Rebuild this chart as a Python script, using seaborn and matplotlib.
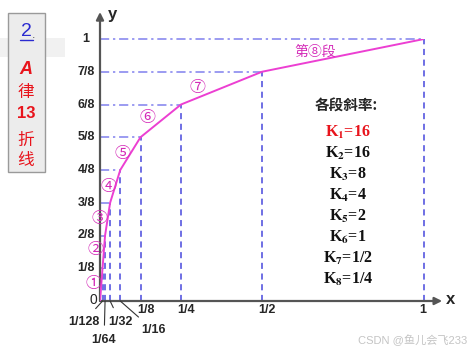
import matplotlib
matplotlib.use('Agg')
import numpy as np
import pandas as pd
import seaborn as sns
import matplotlib.pyplot as plt
from matplotlib.patches import Rectangle

# A律13折线 的折点 (归一化输入 x, 输出 y)
x_pts = [0, 1 / 128, 1 / 64, 1 / 32, 1 / 16, 1 / 8, 1 / 4, 1 / 2, 1]
y_pts = [0, 1 / 8, 2 / 8, 3 / 8, 4 / 8, 5 / 8, 6 / 8, 7 / 8, 1]
y_tick_labels = ['1/8', '2/8', '3/8', '4/8', '5/8', '6/8', '7/8', '1']
x_small_labels = ['1/128', '1/64', '1/32', '1/16']
x_big_labels = ['1/8', '1/4', '1/2', '1']
seg_labels = ['①', '②', '③', '④', '⑤', '⑥', '⑦', '第⑧段']
slopes = ['16', '16', '8', '4', '2', '1', '1/2', '1/4']

W, H = 474, 351
sns.set_style('white')
plt.rcParams['font.family'] = ['Liberation Sans', 'Noto Sans CJK SC', 'DejaVu Sans']
plt.rcParams['mathtext.fontset'] = 'stix'

magenta = '#ec3fd2'
mag_txt = '#d42ab8'
blue = '#4848dc'
lblue = '#8080ee'


def fx(px):
    return px / W


def fy(py):
    return 1 - py / H


fig = plt.figure(figsize=(4.74, 3.51), dpi=100)
# data (0,0) -> pixel (100,301), (1,1) -> pixel (424,39)
ax = fig.add_axes([fx(100), fy(301), 324 / W, 262 / H])

df = pd.DataFrame({'x': x_pts, 'y': y_pts})
sns.lineplot(data=df, x='x', y='y', ax=ax, color=magenta, lw=1.4, sort=False, zorder=5)
ax.set_xlim(0, 1)
ax.set_ylim(0, 1)
ax.axis('off')

# 辅助虚线
for xv, yv in zip(x_pts[1:], y_pts[1:]):
    ax.plot([0, xv], [yv, yv], color=lblue, lw=1.1, ls=(0, (6, 2.5, 1.5, 2.5)), clip_on=False, zorder=2)
    ax.plot([xv, xv], [0, yv], color=blue, lw=1.1, ls=(0, (4, 3)), clip_on=False, zorder=2)

# 坐标轴
ax.annotate('', xy=(0, 1.103), xytext=(0, 0), annotation_clip=False,
            arrowprops=dict(arrowstyle='-|>', color='#555555', lw=1.6, mutation_scale=11, shrinkA=0, shrinkB=0))
ax.annotate('', xy=(1.056, 0), xytext=(0, 0), annotation_clip=False,
            arrowprops=dict(arrowstyle='-|>', color='#555555', lw=1.6, mutation_scale=11, shrinkA=0, shrinkB=0))
fig.text(fx(112), fy(15), 'y', fontsize=12, fontweight='bold', ha='center', va='center')
fig.text(fx(451), fy(300), 'x', fontsize=12, fontweight='bold', ha='center', va='center')

# y 刻度
for yv, lab in zip(y_pts[1:], y_tick_labels):
    ax.annotate(lab, xy=(0, yv), xytext=(-14, 0), textcoords='offset pixels', ha='center', va='center',
                fontsize=9, fontweight='bold', annotation_clip=False)
ax.annotate('0', xy=(0, 0), xytext=(-7, 1), textcoords='offset pixels', ha='center', va='center',
            fontsize=10, annotation_clip=False)

# x 刻度 (大)
for xv, lab in zip(x_pts[5:], x_big_labels):
    dx = 5 if lab != '1' else -1
    ax.annotate(lab, xy=(xv, 0), xytext=(dx, -9), textcoords='offset pixels', ha='center', va='center',
                fontsize=9, fontweight='bold', annotation_clip=False)

# x 刻度 (小, 带引线)
small_off = [(-19, -21), (-1, -39), (10, -21), (33, -29)]
for xv, lab, off in zip(x_pts[1:5], x_small_labels, small_off):
    ax.annotate(lab, xy=(xv, 0), xytext=off, textcoords='offset pixels', ha='center', va='center',
                fontsize=9, fontweight='bold', annotation_clip=False,
                arrowprops=dict(arrowstyle='-', color='#333333', lw=0.8, shrinkA=4, shrinkB=0))

# 段号
seg_off = [(-8, 1), (-8, 2), (-8, 1), (-7, 0), (-8, 0), (-13, 3), (-24, 1), (-28, 4)]
for i, (lab, off) in enumerate(zip(seg_labels, seg_off)):
    mx = (x_pts[i] + x_pts[i + 1]) / 2
    my = (y_pts[i] + y_pts[i + 1]) / 2
    ax.annotate(lab, xy=(mx, my), xytext=off, textcoords='offset pixels', ha='center', va='center',
                fontsize=11.5 if i < 7 else 10, color=mag_txt, annotation_clip=False, zorder=6,
                family=['Noto Sans CJK SC', 'DejaVu Sans'])

# 各段斜率
fig.text(fx(346), fy(106), '各段斜率:', fontsize=10.5, fontweight='bold', ha='center', va='center',
         family=['Noto Sans CJK SC'])
for k, s in enumerate(slopes):
    fig.text(fx(348), fy(132 + k * 21), 'K$_\\mathbf{%d}$=%s' % (k + 1, s), fontsize=11.5, fontweight='bold',
             ha='center', va='center', family=['Liberation Serif'],
             color='#e8141c' if k == 0 else '#111111')

# 左侧标题框
fig.patches.append(Rectangle((0, fy(57)), fx(65), 19 / H, transform=fig.transFigure,
                             facecolor='#f1f1f1', edgecolor='none', zorder=0))
fig.patches.append(Rectangle((fx(8), fy(172)), 37 / W, 159 / H, transform=fig.transFigure,
                             facecolor='#ececec', edgecolor='#9a9a9a', lw=1.0, zorder=1))
fig.text(fx(26), fy(31), '2', fontsize=14, color='#2a2ad0', ha='center', va='center')
fig.text(fx(34), fy(35), '.', fontsize=9, color='#555555', ha='center', va='center')
fig.lines.append(plt.Line2D([fx(20), fx(33)], [fy(40), fy(40)], transform=fig.transFigure,
                            color='#2a2ad0', lw=1.0))
red = '#e8141c'
fig.text(fx(26), fy(69), 'A', fontsize=13, color=red, fontweight='bold', fontstyle='italic',
         ha='center', va='center')
for t, py, wt in [('律', 92, 'normal'), ('13', 114, 'bold'), ('折', 140, 'normal'), ('线', 160, 'normal')]:
    fig.text(fx(26), fy(py), t, fontsize=12, color=red, fontweight=wt, ha='center', va='center',
             family=['Liberation Sans', 'Noto Sans CJK SC'])

# 水印
fig.text(fx(467), fy(340), 'CSDN @鱼儿会飞233', fontsize=8, color='#c4c4c4', ha='right', va='center',
         family=['Liberation Sans', 'Noto Sans CJK SC'])

fig.savefig('out.png', dpi=100)
